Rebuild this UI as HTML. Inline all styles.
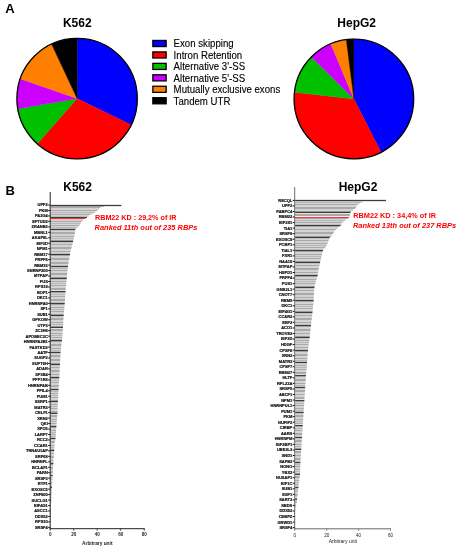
<!DOCTYPE html>
<html lang="en"><head><meta charset="utf-8"><title>Figure</title>
<style>html,body{margin:0;padding:0;background:#fff}svg{display:block}</style></head>
<body>
<svg width="460" height="550" viewBox="0 0 460 550" font-family="'Liberation Sans', Arial, sans-serif">
<rect width="460" height="550" fill="#fff"/>
<text x="5.2" y="13.2" font-size="13" font-weight="bold" fill="#000">A</text>
<text x="5.5" y="195" font-size="13" font-weight="bold" fill="#000">B</text>
<text x="77.3" y="26.6" font-size="12" font-weight="bold" text-anchor="middle" fill="#000">K562</text>
<text x="356.7" y="26.7" font-size="12" font-weight="bold" text-anchor="middle" fill="#000">HepG2</text>
<text x="77.6" y="191.2" font-size="12" font-weight="bold" text-anchor="middle" fill="#000">K562</text>
<text x="358" y="191" font-size="12" font-weight="bold" text-anchor="middle" fill="#000">HepG2</text>
<path d="M77.10,98.60L77.10,38.40A60.2,60.2 0 0 1 131.21,124.99Z" fill="#0000ff" stroke="#0000ff" stroke-width="0.4"/>
<path d="M77.10,98.60L131.21,124.99A60.2,60.2 0 0 1 37.21,143.69Z" fill="#ff0000" stroke="#ff0000" stroke-width="0.4"/>
<path d="M77.10,98.60L37.21,143.69A60.2,60.2 0 0 1 17.74,108.64Z" fill="#00c000" stroke="#00c000" stroke-width="0.4"/>
<path d="M77.10,98.60L17.74,108.64A60.2,60.2 0 0 1 20.28,78.70Z" fill="#cc00ff" stroke="#cc00ff" stroke-width="0.4"/>
<path d="M77.10,98.60L20.28,78.70A60.2,60.2 0 0 1 51.56,44.08Z" fill="#ff8000" stroke="#ff8000" stroke-width="0.4"/>
<path d="M77.10,98.60L51.56,44.08A60.2,60.2 0 0 1 77.10,38.40Z" fill="#000000" stroke="#000000" stroke-width="0.4"/>
<circle cx="77.1" cy="98.6" r="60.2" fill="none" stroke="#000" stroke-width="1.3"/>
<path d="M353.90,99.00L353.90,39.20A59.8,59.8 0 0 1 381.05,152.28Z" fill="#0000ff" stroke="#0000ff" stroke-width="0.4"/>
<path d="M353.90,99.00L381.05,152.28A59.8,59.8 0 0 1 294.50,92.13Z" fill="#ff0000" stroke="#ff0000" stroke-width="0.4"/>
<path d="M353.90,99.00L294.50,92.13A59.8,59.8 0 0 1 311.39,56.94Z" fill="#00c000" stroke="#00c000" stroke-width="0.4"/>
<path d="M353.90,99.00L311.39,56.94A59.8,59.8 0 0 1 330.82,43.83Z" fill="#cc00ff" stroke="#cc00ff" stroke-width="0.4"/>
<path d="M353.90,99.00L330.82,43.83A59.8,59.8 0 0 1 346.30,39.68Z" fill="#ff8000" stroke="#ff8000" stroke-width="0.4"/>
<path d="M353.90,99.00L346.30,39.68A59.8,59.8 0 0 1 353.90,39.20Z" fill="#000000" stroke="#000000" stroke-width="0.4"/>
<circle cx="353.9" cy="99" r="59.8" fill="none" stroke="#000" stroke-width="1.3"/>
<rect x="152.85" y="40.45" width="13.3" height="6.1" fill="#0000ff" stroke="#000" stroke-width="1.3"/>
<text transform="translate(173.6,47.25) scale(1,1.07)" font-size="9.65" fill="#000" stroke="#000" stroke-width="0.12">Exon skipping</text>
<rect x="152.85" y="51.90" width="13.3" height="6.1" fill="#ff0000" stroke="#000" stroke-width="1.3"/>
<text transform="translate(173.6,58.70) scale(1,1.07)" font-size="9.65" fill="#000" stroke="#000" stroke-width="0.12">Intron Retention</text>
<rect x="152.85" y="63.35" width="13.3" height="6.1" fill="#00c000" stroke="#000" stroke-width="1.3"/>
<text transform="translate(173.6,70.15) scale(1,1.07)" font-size="9.65" fill="#000" stroke="#000" stroke-width="0.12">Alternative 3'-SS</text>
<rect x="152.85" y="74.80" width="13.3" height="6.1" fill="#cc00ff" stroke="#000" stroke-width="1.3"/>
<text transform="translate(173.6,81.60) scale(1,1.07)" font-size="9.65" fill="#000" stroke="#000" stroke-width="0.12">Alternative 5'-SS</text>
<rect x="152.85" y="86.25" width="13.3" height="6.1" fill="#ff8000" stroke="#000" stroke-width="1.3"/>
<text transform="translate(173.6,93.05) scale(1,1.07)" font-size="9.65" fill="#000" stroke="#000" stroke-width="0.12">Mutually exclusive exons</text>
<rect x="152.85" y="97.70" width="13.3" height="6.1" fill="#000000" stroke="#000" stroke-width="1.3"/>
<text transform="translate(173.6,104.50) scale(1,1.07)" font-size="9.65" fill="#000" stroke="#000" stroke-width="0.12">Tandem UTR</text>
<rect x="50.60" y="204.85" width="70.80" height="1.30" fill="#3c3c3c"/>
<rect x="50.60" y="206.15" width="53.13" height="0.70" fill="#868686"/>
<rect x="50.60" y="207.15" width="49.92" height="0.70" fill="#868686"/>
<rect x="50.60" y="208.65" width="48.28" height="0.70" fill="#868686"/>
<rect x="50.60" y="210.15" width="46.64" height="0.70" fill="#868686"/>
<rect x="50.60" y="211.65" width="44.92" height="0.70" fill="#868686"/>
<rect x="50.60" y="212.65" width="43.01" height="0.70" fill="#868686"/>
<rect x="50.60" y="214.15" width="40.28" height="0.70" fill="#868686"/>
<rect x="50.60" y="215.65" width="38.16" height="0.70" fill="#868686"/>
<rect x="50.60" y="216.85" width="36.34" height="1.30" fill="#3c3c3c"/>
<rect x="50.60" y="217.95" width="34.41" height="1.10" fill="#ff3030"/>
<rect x="50.60" y="219.65" width="32.38" height="0.70" fill="#868686"/>
<rect x="50.60" y="221.15" width="31.29" height="0.70" fill="#868686"/>
<rect x="50.60" y="222.65" width="30.19" height="0.70" fill="#868686"/>
<rect x="50.60" y="223.65" width="29.40" height="0.70" fill="#868686"/>
<rect x="50.60" y="225.15" width="28.67" height="0.70" fill="#868686"/>
<rect x="50.60" y="226.65" width="27.37" height="0.70" fill="#868686"/>
<rect x="50.60" y="227.65" width="25.73" height="0.70" fill="#868686"/>
<rect x="50.60" y="228.85" width="24.72" height="1.30" fill="#3c3c3c"/>
<rect x="50.60" y="230.65" width="24.54" height="0.70" fill="#868686"/>
<rect x="50.60" y="232.15" width="24.36" height="0.70" fill="#868686"/>
<rect x="50.60" y="233.15" width="24.18" height="0.70" fill="#868686"/>
<rect x="50.60" y="234.65" width="23.99" height="0.70" fill="#868686"/>
<rect x="50.60" y="236.15" width="23.68" height="0.70" fill="#868686"/>
<rect x="50.60" y="237.65" width="23.36" height="0.70" fill="#868686"/>
<rect x="50.60" y="238.65" width="23.05" height="0.70" fill="#868686"/>
<rect x="50.60" y="240.15" width="22.74" height="0.70" fill="#868686"/>
<rect x="50.60" y="240.85" width="22.43" height="1.30" fill="#3c3c3c"/>
<rect x="50.60" y="242.65" width="22.07" height="0.70" fill="#868686"/>
<rect x="50.60" y="244.15" width="21.70" height="0.70" fill="#868686"/>
<rect x="50.60" y="245.65" width="21.34" height="0.70" fill="#868686"/>
<rect x="50.60" y="247.15" width="20.97" height="0.70" fill="#868686"/>
<rect x="50.60" y="248.15" width="20.63" height="0.70" fill="#868686"/>
<rect x="50.60" y="249.65" width="20.32" height="0.70" fill="#868686"/>
<rect x="50.60" y="251.15" width="20.00" height="0.70" fill="#868686"/>
<rect x="50.60" y="252.65" width="19.68" height="0.70" fill="#868686"/>
<rect x="50.60" y="253.85" width="19.37" height="1.30" fill="#3c3c3c"/>
<rect x="50.60" y="255.15" width="19.14" height="0.70" fill="#868686"/>
<rect x="50.60" y="256.65" width="18.92" height="0.70" fill="#868686"/>
<rect x="50.60" y="258.15" width="18.69" height="0.70" fill="#868686"/>
<rect x="50.60" y="259.15" width="18.46" height="0.70" fill="#868686"/>
<rect x="50.60" y="260.65" width="18.23" height="0.70" fill="#868686"/>
<rect x="50.60" y="262.15" width="18.00" height="0.70" fill="#868686"/>
<rect x="50.60" y="263.15" width="17.78" height="0.70" fill="#868686"/>
<rect x="50.60" y="264.65" width="17.55" height="0.70" fill="#868686"/>
<rect x="50.60" y="265.85" width="17.35" height="1.30" fill="#3c3c3c"/>
<rect x="50.60" y="267.65" width="17.22" height="0.70" fill="#868686"/>
<rect x="50.60" y="268.65" width="17.08" height="0.70" fill="#868686"/>
<rect x="50.60" y="270.15" width="16.94" height="0.70" fill="#868686"/>
<rect x="50.60" y="271.65" width="16.81" height="0.70" fill="#868686"/>
<rect x="50.60" y="273.15" width="16.67" height="0.70" fill="#868686"/>
<rect x="50.60" y="274.15" width="16.53" height="0.70" fill="#868686"/>
<rect x="50.60" y="275.65" width="16.40" height="0.70" fill="#868686"/>
<rect x="50.60" y="277.15" width="16.26" height="0.70" fill="#868686"/>
<rect x="50.60" y="277.85" width="16.12" height="1.30" fill="#3c3c3c"/>
<rect x="50.60" y="279.65" width="15.99" height="0.70" fill="#868686"/>
<rect x="50.60" y="281.15" width="15.85" height="0.70" fill="#868686"/>
<rect x="50.60" y="282.65" width="15.71" height="0.70" fill="#868686"/>
<rect x="50.60" y="283.65" width="15.58" height="0.70" fill="#868686"/>
<rect x="50.60" y="285.15" width="15.44" height="0.70" fill="#868686"/>
<rect x="50.60" y="286.65" width="15.30" height="0.70" fill="#868686"/>
<rect x="50.60" y="288.15" width="15.17" height="0.70" fill="#868686"/>
<rect x="50.60" y="289.15" width="15.03" height="0.70" fill="#868686"/>
<rect x="50.60" y="290.85" width="14.94" height="1.30" fill="#3c3c3c"/>
<rect x="50.60" y="292.15" width="14.85" height="0.70" fill="#868686"/>
<rect x="50.60" y="293.65" width="14.77" height="0.70" fill="#868686"/>
<rect x="50.60" y="294.65" width="14.69" height="0.70" fill="#868686"/>
<rect x="50.60" y="296.15" width="14.61" height="0.70" fill="#868686"/>
<rect x="50.60" y="297.65" width="14.53" height="0.70" fill="#868686"/>
<rect x="50.60" y="299.15" width="14.44" height="0.70" fill="#868686"/>
<rect x="50.60" y="300.15" width="14.35" height="0.70" fill="#868686"/>
<rect x="50.60" y="301.65" width="14.25" height="0.70" fill="#868686"/>
<rect x="50.60" y="302.85" width="14.15" height="1.30" fill="#3c3c3c"/>
<rect x="50.60" y="304.15" width="14.05" height="0.70" fill="#868686"/>
<rect x="50.60" y="305.65" width="13.94" height="0.70" fill="#868686"/>
<rect x="50.60" y="307.15" width="13.84" height="0.70" fill="#868686"/>
<rect x="50.60" y="308.65" width="13.72" height="0.70" fill="#868686"/>
<rect x="50.60" y="309.65" width="13.58" height="0.70" fill="#868686"/>
<rect x="50.60" y="311.15" width="13.45" height="0.70" fill="#868686"/>
<rect x="50.60" y="312.65" width="13.31" height="0.70" fill="#868686"/>
<rect x="50.60" y="314.15" width="13.17" height="0.70" fill="#868686"/>
<rect x="50.60" y="314.85" width="13.04" height="1.30" fill="#3c3c3c"/>
<rect x="50.60" y="316.65" width="12.95" height="0.70" fill="#868686"/>
<rect x="50.60" y="318.15" width="12.88" height="0.70" fill="#868686"/>
<rect x="50.60" y="319.15" width="12.81" height="0.70" fill="#868686"/>
<rect x="50.60" y="320.65" width="12.74" height="0.70" fill="#868686"/>
<rect x="50.60" y="322.15" width="12.68" height="0.70" fill="#868686"/>
<rect x="50.60" y="323.65" width="12.61" height="0.70" fill="#868686"/>
<rect x="50.60" y="324.65" width="12.54" height="0.70" fill="#868686"/>
<rect x="50.60" y="326.15" width="12.47" height="0.70" fill="#868686"/>
<rect x="50.60" y="326.85" width="12.40" height="1.30" fill="#3c3c3c"/>
<rect x="50.60" y="329.15" width="12.29" height="0.70" fill="#868686"/>
<rect x="50.60" y="330.15" width="12.18" height="0.70" fill="#868686"/>
<rect x="50.60" y="331.65" width="12.06" height="0.70" fill="#868686"/>
<rect x="50.60" y="333.15" width="11.95" height="0.70" fill="#868686"/>
<rect x="50.60" y="334.65" width="11.84" height="0.70" fill="#868686"/>
<rect x="50.60" y="335.65" width="11.72" height="0.70" fill="#868686"/>
<rect x="50.60" y="337.15" width="11.61" height="0.70" fill="#868686"/>
<rect x="50.60" y="338.65" width="11.49" height="0.70" fill="#868686"/>
<rect x="50.60" y="339.85" width="11.37" height="1.30" fill="#3c3c3c"/>
<rect x="50.60" y="341.15" width="11.21" height="0.70" fill="#868686"/>
<rect x="50.60" y="342.65" width="11.05" height="0.70" fill="#868686"/>
<rect x="50.60" y="344.15" width="10.89" height="0.70" fill="#868686"/>
<rect x="50.60" y="345.15" width="10.74" height="0.70" fill="#868686"/>
<rect x="50.60" y="346.65" width="10.58" height="0.70" fill="#868686"/>
<rect x="50.60" y="348.15" width="10.42" height="0.70" fill="#868686"/>
<rect x="50.60" y="349.65" width="10.26" height="0.70" fill="#868686"/>
<rect x="50.60" y="350.65" width="10.10" height="0.70" fill="#868686"/>
<rect x="50.60" y="351.85" width="9.97" height="1.30" fill="#3c3c3c"/>
<rect x="50.60" y="353.65" width="9.91" height="0.70" fill="#868686"/>
<rect x="50.60" y="355.15" width="9.84" height="0.70" fill="#868686"/>
<rect x="50.60" y="356.15" width="9.77" height="0.70" fill="#868686"/>
<rect x="50.60" y="357.65" width="9.70" height="0.70" fill="#868686"/>
<rect x="50.60" y="359.15" width="9.63" height="0.70" fill="#868686"/>
<rect x="50.60" y="360.15" width="9.56" height="0.70" fill="#868686"/>
<rect x="50.60" y="361.65" width="9.50" height="0.70" fill="#868686"/>
<rect x="50.60" y="363.15" width="9.43" height="0.70" fill="#868686"/>
<rect x="50.60" y="363.85" width="9.36" height="1.30" fill="#3c3c3c"/>
<rect x="50.60" y="365.65" width="9.29" height="0.70" fill="#868686"/>
<rect x="50.60" y="367.15" width="9.22" height="0.70" fill="#868686"/>
<rect x="50.60" y="368.65" width="9.15" height="0.70" fill="#868686"/>
<rect x="50.60" y="370.15" width="9.09" height="0.70" fill="#868686"/>
<rect x="50.60" y="371.15" width="9.02" height="0.70" fill="#868686"/>
<rect x="50.60" y="372.65" width="8.95" height="0.70" fill="#868686"/>
<rect x="50.60" y="374.15" width="8.88" height="0.70" fill="#868686"/>
<rect x="50.60" y="375.65" width="8.81" height="0.70" fill="#868686"/>
<rect x="50.60" y="376.85" width="8.73" height="1.30" fill="#3c3c3c"/>
<rect x="50.60" y="378.15" width="8.63" height="0.70" fill="#868686"/>
<rect x="50.60" y="379.65" width="8.54" height="0.70" fill="#868686"/>
<rect x="50.60" y="380.65" width="8.45" height="0.70" fill="#868686"/>
<rect x="50.60" y="382.15" width="8.36" height="0.70" fill="#868686"/>
<rect x="50.60" y="383.65" width="8.27" height="0.70" fill="#868686"/>
<rect x="50.60" y="385.15" width="8.18" height="0.70" fill="#868686"/>
<rect x="50.60" y="386.15" width="8.09" height="0.70" fill="#868686"/>
<rect x="50.60" y="387.65" width="8.00" height="0.70" fill="#868686"/>
<rect x="50.60" y="388.85" width="7.93" height="1.30" fill="#3c3c3c"/>
<rect x="50.60" y="390.65" width="7.86" height="0.70" fill="#868686"/>
<rect x="50.60" y="391.65" width="7.79" height="0.70" fill="#868686"/>
<rect x="50.60" y="393.15" width="7.72" height="0.70" fill="#868686"/>
<rect x="50.60" y="394.65" width="7.66" height="0.70" fill="#868686"/>
<rect x="50.60" y="395.65" width="7.59" height="0.70" fill="#868686"/>
<rect x="50.60" y="397.15" width="7.52" height="0.70" fill="#868686"/>
<rect x="50.60" y="398.65" width="7.45" height="0.70" fill="#868686"/>
<rect x="50.60" y="400.15" width="7.39" height="0.70" fill="#868686"/>
<rect x="50.60" y="400.85" width="7.33" height="1.30" fill="#3c3c3c"/>
<rect x="50.60" y="402.65" width="7.27" height="0.70" fill="#868686"/>
<rect x="50.60" y="404.15" width="7.21" height="0.70" fill="#868686"/>
<rect x="50.60" y="405.65" width="7.15" height="0.70" fill="#868686"/>
<rect x="50.60" y="406.65" width="7.09" height="0.70" fill="#868686"/>
<rect x="50.60" y="408.15" width="7.03" height="0.70" fill="#868686"/>
<rect x="50.60" y="409.65" width="6.98" height="0.70" fill="#868686"/>
<rect x="50.60" y="411.15" width="6.92" height="0.70" fill="#868686"/>
<rect x="50.60" y="412.15" width="6.86" height="0.70" fill="#868686"/>
<rect x="50.60" y="412.85" width="6.80" height="1.30" fill="#3c3c3c"/>
<rect x="50.60" y="415.15" width="6.69" height="0.70" fill="#868686"/>
<rect x="50.60" y="416.15" width="6.57" height="0.70" fill="#868686"/>
<rect x="50.60" y="417.65" width="6.46" height="0.70" fill="#868686"/>
<rect x="50.60" y="419.15" width="6.34" height="0.70" fill="#868686"/>
<rect x="50.60" y="420.65" width="6.23" height="0.70" fill="#868686"/>
<rect x="50.60" y="421.65" width="6.12" height="0.70" fill="#868686"/>
<rect x="50.60" y="423.15" width="6.00" height="0.70" fill="#868686"/>
<rect x="50.60" y="424.65" width="5.89" height="0.70" fill="#868686"/>
<rect x="50.60" y="425.85" width="5.78" height="1.30" fill="#3c3c3c"/>
<rect x="50.60" y="427.15" width="5.69" height="0.70" fill="#868686"/>
<rect x="50.60" y="428.65" width="5.60" height="0.70" fill="#868686"/>
<rect x="50.60" y="430.15" width="5.51" height="0.70" fill="#868686"/>
<rect x="50.60" y="431.65" width="5.42" height="0.70" fill="#868686"/>
<rect x="50.60" y="432.65" width="5.33" height="0.70" fill="#868686"/>
<rect x="50.60" y="434.15" width="5.23" height="0.70" fill="#868686"/>
<rect x="50.60" y="435.65" width="5.14" height="0.70" fill="#868686"/>
<rect x="50.60" y="436.65" width="5.05" height="0.70" fill="#868686"/>
<rect x="50.60" y="437.85" width="4.88" height="1.30" fill="#3c3c3c"/>
<rect x="50.60" y="439.65" width="4.61" height="0.70" fill="#868686"/>
<rect x="50.60" y="441.15" width="4.34" height="0.70" fill="#868686"/>
<rect x="50.60" y="442.15" width="4.06" height="0.70" fill="#868686"/>
<rect x="50.60" y="443.65" width="3.95" height="0.70" fill="#868686"/>
<rect x="50.60" y="445.15" width="3.88" height="0.70" fill="#868686"/>
<rect x="50.60" y="446.65" width="3.81" height="0.70" fill="#868686"/>
<rect x="50.60" y="447.65" width="3.74" height="0.70" fill="#868686"/>
<rect x="50.60" y="449.15" width="3.67" height="0.70" fill="#868686"/>
<rect x="50.60" y="449.85" width="3.61" height="1.30" fill="#3c3c3c"/>
<rect x="50.60" y="451.65" width="3.51" height="0.70" fill="#868686"/>
<rect x="50.60" y="453.15" width="3.41" height="0.70" fill="#868686"/>
<rect x="50.60" y="454.65" width="3.31" height="0.70" fill="#868686"/>
<rect x="50.60" y="456.15" width="3.21" height="0.70" fill="#868686"/>
<rect x="50.60" y="457.15" width="3.11" height="0.70" fill="#868686"/>
<rect x="50.60" y="458.65" width="3.01" height="0.70" fill="#868686"/>
<rect x="50.60" y="460.15" width="2.91" height="0.70" fill="#868686"/>
<rect x="50.60" y="461.65" width="2.81" height="0.70" fill="#868686"/>
<rect x="50.60" y="462.85" width="2.73" height="1.30" fill="#3c3c3c"/>
<rect x="50.60" y="464.15" width="2.65" height="0.70" fill="#868686"/>
<rect x="50.60" y="465.65" width="2.58" height="0.70" fill="#868686"/>
<rect x="50.60" y="467.15" width="2.50" height="0.70" fill="#868686"/>
<rect x="50.60" y="468.15" width="2.42" height="0.70" fill="#868686"/>
<rect x="50.60" y="469.65" width="2.34" height="0.70" fill="#868686"/>
<rect x="50.60" y="471.15" width="2.26" height="0.70" fill="#868686"/>
<rect x="50.60" y="472.15" width="2.19" height="0.70" fill="#868686"/>
<rect x="50.60" y="473.65" width="2.11" height="0.70" fill="#868686"/>
<rect x="50.60" y="474.85" width="2.03" height="1.30" fill="#3c3c3c"/>
<rect x="50.60" y="476.65" width="1.96" height="0.70" fill="#868686"/>
<rect x="50.60" y="477.65" width="1.89" height="0.70" fill="#868686"/>
<rect x="50.60" y="479.15" width="1.82" height="0.70" fill="#868686"/>
<rect x="50.60" y="480.65" width="1.75" height="0.70" fill="#868686"/>
<rect x="50.60" y="482.15" width="1.69" height="0.70" fill="#868686"/>
<rect x="50.60" y="483.15" width="1.62" height="0.70" fill="#868686"/>
<rect x="50.60" y="484.65" width="1.55" height="0.70" fill="#868686"/>
<rect x="50.60" y="486.15" width="1.48" height="0.70" fill="#868686"/>
<rect x="50.60" y="486.85" width="1.41" height="1.30" fill="#3c3c3c"/>
<rect x="50.60" y="488.65" width="1.33" height="0.70" fill="#868686"/>
<rect x="50.60" y="490.15" width="1.25" height="0.70" fill="#868686"/>
<rect x="50.60" y="491.65" width="1.17" height="0.70" fill="#868686"/>
<rect x="50.60" y="492.65" width="1.10" height="0.70" fill="#868686"/>
<rect x="50.60" y="494.15" width="1.02" height="0.70" fill="#868686"/>
<rect x="50.60" y="495.65" width="0.94" height="0.70" fill="#868686"/>
<rect x="50.60" y="497.15" width="0.86" height="0.70" fill="#868686"/>
<rect x="50.60" y="498.15" width="0.78" height="0.70" fill="#868686"/>
<rect x="50.60" y="499.85" width="0.70" height="1.30" fill="#3c3c3c"/>
<rect x="50.60" y="501.15" width="0.61" height="0.70" fill="#868686"/>
<rect x="50.60" y="502.65" width="0.51" height="0.70" fill="#868686"/>
<rect x="50.60" y="503.65" width="0.42" height="0.70" fill="#868686"/>
<rect x="50.60" y="505.15" width="0.33" height="0.70" fill="#868686"/>
<rect x="50.60" y="506.65" width="0.29" height="0.70" fill="#868686"/>
<rect x="50.60" y="508.15" width="0.27" height="0.70" fill="#868686"/>
<rect x="50.60" y="509.15" width="0.25" height="0.70" fill="#868686"/>
<rect x="50.60" y="510.65" width="0.24" height="0.70" fill="#868686"/>
<rect x="50.60" y="511.85" width="0.22" height="1.30" fill="#3c3c3c"/>
<rect x="50.60" y="513.15" width="0.20" height="0.70" fill="#868686"/>
<rect x="50.60" y="514.65" width="0.19" height="0.70" fill="#868686"/>
<rect x="50.60" y="516.15" width="0.17" height="0.70" fill="#868686"/>
<rect x="50.60" y="517.65" width="0.15" height="0.70" fill="#868686"/>
<rect x="50.60" y="518.65" width="0.14" height="0.70" fill="#868686"/>
<rect x="50.60" y="520.15" width="0.12" height="0.70" fill="#868686"/>
<rect x="50.60" y="521.65" width="0.10" height="0.70" fill="#868686"/>
<rect x="50.60" y="523.15" width="0.08" height="0.70" fill="#868686"/>
<rect x="50.60" y="523.85" width="0.07" height="1.30" fill="#3c3c3c"/>
<line x1="50.2" y1="192" x2="50.2" y2="529.2" stroke="#222" stroke-width="1"/>
<line x1="49.7" y1="528.7" x2="144.8" y2="528.7" stroke="#222" stroke-width="1"/>
<line x1="50.2" y1="528.7" x2="50.2" y2="530.7" stroke="#222" stroke-width="0.8"/>
<text x="50.2" y="535.8" font-size="4.6" font-weight="bold" text-anchor="middle" fill="#222">0</text>
<line x1="73.7" y1="528.7" x2="73.7" y2="530.7" stroke="#222" stroke-width="0.8"/>
<text x="73.7" y="535.8" font-size="4.6" font-weight="bold" text-anchor="middle" fill="#222">20</text>
<line x1="97.2" y1="528.7" x2="97.2" y2="530.7" stroke="#222" stroke-width="0.8"/>
<text x="97.2" y="535.8" font-size="4.6" font-weight="bold" text-anchor="middle" fill="#222">40</text>
<line x1="120.7" y1="528.7" x2="120.7" y2="530.7" stroke="#222" stroke-width="0.8"/>
<text x="120.7" y="535.8" font-size="4.6" font-weight="bold" text-anchor="middle" fill="#222">60</text>
<line x1="144.2" y1="528.7" x2="144.2" y2="530.7" stroke="#222" stroke-width="0.8"/>
<text x="144.2" y="535.8" font-size="4.6" font-weight="bold" text-anchor="middle" fill="#222">80</text>
<text x="97.3" y="544.6" font-size="4.8" font-weight="bold" text-anchor="middle" fill="#222">Arbitrary unit</text>
<line x1="48.2" y1="205.00" x2="50.2" y2="205.00" stroke="#111" stroke-width="1"/>
<text x="47.80" y="206.44" font-size="4" font-weight="bold" text-anchor="end" fill="#111" stroke="#111" stroke-width="0.2">UPF2</text>
<line x1="48.2" y1="210.46" x2="50.2" y2="210.46" stroke="#111" stroke-width="1"/>
<text x="47.80" y="211.90" font-size="4" font-weight="bold" text-anchor="end" fill="#111" stroke="#111" stroke-width="0.2">PKM</text>
<line x1="48.2" y1="215.93" x2="50.2" y2="215.93" stroke="#111" stroke-width="1"/>
<text x="47.80" y="217.37" font-size="4" font-weight="bold" text-anchor="end" fill="#111" stroke="#111" stroke-width="0.2">PA2G4</text>
<line x1="48.2" y1="221.39" x2="50.2" y2="221.39" stroke="#111" stroke-width="1"/>
<text x="47.80" y="222.83" font-size="4" font-weight="bold" text-anchor="end" fill="#111" stroke="#111" stroke-width="0.2">EFTUD2</text>
<line x1="48.2" y1="226.86" x2="50.2" y2="226.86" stroke="#111" stroke-width="1"/>
<text x="47.80" y="228.30" font-size="4" font-weight="bold" text-anchor="end" fill="#111" stroke="#111" stroke-width="0.2">ZRANB2</text>
<line x1="48.2" y1="232.32" x2="50.2" y2="232.32" stroke="#111" stroke-width="1"/>
<text x="47.80" y="233.76" font-size="4" font-weight="bold" text-anchor="end" fill="#111" stroke="#111" stroke-width="0.2">MBNL1</text>
<line x1="48.2" y1="237.78" x2="50.2" y2="237.78" stroke="#111" stroke-width="1"/>
<text x="47.80" y="239.22" font-size="4" font-weight="bold" text-anchor="end" fill="#111" stroke="#111" stroke-width="0.2">AKAP8L</text>
<line x1="48.2" y1="243.25" x2="50.2" y2="243.25" stroke="#111" stroke-width="1"/>
<text x="47.80" y="244.69" font-size="4" font-weight="bold" text-anchor="end" fill="#111" stroke="#111" stroke-width="0.2">EIF3D</text>
<line x1="48.2" y1="248.71" x2="50.2" y2="248.71" stroke="#111" stroke-width="1"/>
<text x="47.80" y="250.15" font-size="4" font-weight="bold" text-anchor="end" fill="#111" stroke="#111" stroke-width="0.2">NPM1</text>
<line x1="48.2" y1="254.18" x2="50.2" y2="254.18" stroke="#111" stroke-width="1"/>
<text x="47.80" y="255.62" font-size="4" font-weight="bold" text-anchor="end" fill="#111" stroke="#111" stroke-width="0.2">RBM17</text>
<line x1="48.2" y1="259.64" x2="50.2" y2="259.64" stroke="#111" stroke-width="1"/>
<text x="47.80" y="261.08" font-size="4" font-weight="bold" text-anchor="end" fill="#111" stroke="#111" stroke-width="0.2">PRPF6</text>
<line x1="48.2" y1="265.10" x2="50.2" y2="265.10" stroke="#111" stroke-width="1"/>
<text x="47.80" y="266.54" font-size="4" font-weight="bold" text-anchor="end" fill="#111" stroke="#111" stroke-width="0.2">RBM15</text>
<line x1="48.2" y1="270.57" x2="50.2" y2="270.57" stroke="#111" stroke-width="1"/>
<text x="47.80" y="272.01" font-size="4" font-weight="bold" text-anchor="end" fill="#111" stroke="#111" stroke-width="0.2">SNRNP200</text>
<line x1="48.2" y1="276.03" x2="50.2" y2="276.03" stroke="#111" stroke-width="1"/>
<text x="47.80" y="277.47" font-size="4" font-weight="bold" text-anchor="end" fill="#111" stroke="#111" stroke-width="0.2">MTPAP</text>
<line x1="48.2" y1="281.50" x2="50.2" y2="281.50" stroke="#111" stroke-width="1"/>
<text x="47.80" y="282.94" font-size="4" font-weight="bold" text-anchor="end" fill="#111" stroke="#111" stroke-width="0.2">FUS</text>
<line x1="48.2" y1="286.96" x2="50.2" y2="286.96" stroke="#111" stroke-width="1"/>
<text x="47.80" y="288.40" font-size="4" font-weight="bold" text-anchor="end" fill="#111" stroke="#111" stroke-width="0.2">RPS19</text>
<line x1="48.2" y1="292.42" x2="50.2" y2="292.42" stroke="#111" stroke-width="1"/>
<text x="47.80" y="293.86" font-size="4" font-weight="bold" text-anchor="end" fill="#111" stroke="#111" stroke-width="0.2">BOP1</text>
<line x1="48.2" y1="297.89" x2="50.2" y2="297.89" stroke="#111" stroke-width="1"/>
<text x="47.80" y="299.33" font-size="4" font-weight="bold" text-anchor="end" fill="#111" stroke="#111" stroke-width="0.2">DKC1</text>
<line x1="48.2" y1="303.35" x2="50.2" y2="303.35" stroke="#111" stroke-width="1"/>
<text x="47.80" y="304.79" font-size="4" font-weight="bold" text-anchor="end" fill="#111" stroke="#111" stroke-width="0.2">HNRNPA0</text>
<line x1="48.2" y1="308.82" x2="50.2" y2="308.82" stroke="#111" stroke-width="1"/>
<text x="47.80" y="310.26" font-size="4" font-weight="bold" text-anchor="end" fill="#111" stroke="#111" stroke-width="0.2">SF1</text>
<line x1="48.2" y1="314.28" x2="50.2" y2="314.28" stroke="#111" stroke-width="1"/>
<text x="47.80" y="315.72" font-size="4" font-weight="bold" text-anchor="end" fill="#111" stroke="#111" stroke-width="0.2">SUB1</text>
<line x1="48.2" y1="319.74" x2="50.2" y2="319.74" stroke="#111" stroke-width="1"/>
<text x="47.80" y="321.18" font-size="4" font-weight="bold" text-anchor="end" fill="#111" stroke="#111" stroke-width="0.2">GPKOW</text>
<line x1="48.2" y1="325.21" x2="50.2" y2="325.21" stroke="#111" stroke-width="1"/>
<text x="47.80" y="326.65" font-size="4" font-weight="bold" text-anchor="end" fill="#111" stroke="#111" stroke-width="0.2">UTP3</text>
<line x1="48.2" y1="330.67" x2="50.2" y2="330.67" stroke="#111" stroke-width="1"/>
<text x="47.80" y="332.11" font-size="4" font-weight="bold" text-anchor="end" fill="#111" stroke="#111" stroke-width="0.2">ZC3H8</text>
<line x1="48.2" y1="336.14" x2="50.2" y2="336.14" stroke="#111" stroke-width="1"/>
<text x="47.80" y="337.58" font-size="4" font-weight="bold" text-anchor="end" fill="#111" stroke="#111" stroke-width="0.2">APOBEC3C</text>
<line x1="48.2" y1="341.60" x2="50.2" y2="341.60" stroke="#111" stroke-width="1"/>
<text x="47.80" y="343.04" font-size="4" font-weight="bold" text-anchor="end" fill="#111" stroke="#111" stroke-width="0.2">HNRNPA2B1</text>
<line x1="48.2" y1="347.06" x2="50.2" y2="347.06" stroke="#111" stroke-width="1"/>
<text x="47.80" y="348.50" font-size="4" font-weight="bold" text-anchor="end" fill="#111" stroke="#111" stroke-width="0.2">FASTKD2</text>
<line x1="48.2" y1="352.53" x2="50.2" y2="352.53" stroke="#111" stroke-width="1"/>
<text x="47.80" y="353.97" font-size="4" font-weight="bold" text-anchor="end" fill="#111" stroke="#111" stroke-width="0.2">AATF</text>
<line x1="48.2" y1="357.99" x2="50.2" y2="357.99" stroke="#111" stroke-width="1"/>
<text x="47.80" y="359.43" font-size="4" font-weight="bold" text-anchor="end" fill="#111" stroke="#111" stroke-width="0.2">SUGP2</text>
<line x1="48.2" y1="363.46" x2="50.2" y2="363.46" stroke="#111" stroke-width="1"/>
<text x="47.80" y="364.90" font-size="4" font-weight="bold" text-anchor="end" fill="#111" stroke="#111" stroke-width="0.2">SUPT6H</text>
<line x1="48.2" y1="368.92" x2="50.2" y2="368.92" stroke="#111" stroke-width="1"/>
<text x="47.80" y="370.36" font-size="4" font-weight="bold" text-anchor="end" fill="#111" stroke="#111" stroke-width="0.2">ADAR</text>
<line x1="48.2" y1="374.38" x2="50.2" y2="374.38" stroke="#111" stroke-width="1"/>
<text x="47.80" y="375.82" font-size="4" font-weight="bold" text-anchor="end" fill="#111" stroke="#111" stroke-width="0.2">SF3B4</text>
<line x1="48.2" y1="379.85" x2="50.2" y2="379.85" stroke="#111" stroke-width="1"/>
<text x="47.80" y="381.29" font-size="4" font-weight="bold" text-anchor="end" fill="#111" stroke="#111" stroke-width="0.2">PPP1R8</text>
<line x1="48.2" y1="385.31" x2="50.2" y2="385.31" stroke="#111" stroke-width="1"/>
<text x="47.80" y="386.75" font-size="4" font-weight="bold" text-anchor="end" fill="#111" stroke="#111" stroke-width="0.2">HNRNPAB</text>
<line x1="48.2" y1="390.78" x2="50.2" y2="390.78" stroke="#111" stroke-width="1"/>
<text x="47.80" y="392.22" font-size="4" font-weight="bold" text-anchor="end" fill="#111" stroke="#111" stroke-width="0.2">PPIL4</text>
<line x1="48.2" y1="396.24" x2="50.2" y2="396.24" stroke="#111" stroke-width="1"/>
<text x="47.80" y="397.68" font-size="4" font-weight="bold" text-anchor="end" fill="#111" stroke="#111" stroke-width="0.2">PUM1</text>
<line x1="48.2" y1="401.70" x2="50.2" y2="401.70" stroke="#111" stroke-width="1"/>
<text x="47.80" y="403.14" font-size="4" font-weight="bold" text-anchor="end" fill="#111" stroke="#111" stroke-width="0.2">SSRP1</text>
<line x1="48.2" y1="407.17" x2="50.2" y2="407.17" stroke="#111" stroke-width="1"/>
<text x="47.80" y="408.61" font-size="4" font-weight="bold" text-anchor="end" fill="#111" stroke="#111" stroke-width="0.2">MATR3</text>
<line x1="48.2" y1="412.63" x2="50.2" y2="412.63" stroke="#111" stroke-width="1"/>
<text x="47.80" y="414.07" font-size="4" font-weight="bold" text-anchor="end" fill="#111" stroke="#111" stroke-width="0.2">CELF1</text>
<line x1="48.2" y1="418.10" x2="50.2" y2="418.10" stroke="#111" stroke-width="1"/>
<text x="47.80" y="419.54" font-size="4" font-weight="bold" text-anchor="end" fill="#111" stroke="#111" stroke-width="0.2">XRN2</text>
<line x1="48.2" y1="423.56" x2="50.2" y2="423.56" stroke="#111" stroke-width="1"/>
<text x="47.80" y="425.00" font-size="4" font-weight="bold" text-anchor="end" fill="#111" stroke="#111" stroke-width="0.2">QKI</text>
<line x1="48.2" y1="429.02" x2="50.2" y2="429.02" stroke="#111" stroke-width="1"/>
<text x="47.80" y="430.46" font-size="4" font-weight="bold" text-anchor="end" fill="#111" stroke="#111" stroke-width="0.2">XPO5</text>
<line x1="48.2" y1="434.49" x2="50.2" y2="434.49" stroke="#111" stroke-width="1"/>
<text x="47.80" y="435.93" font-size="4" font-weight="bold" text-anchor="end" fill="#111" stroke="#111" stroke-width="0.2">LARP7</text>
<line x1="48.2" y1="439.95" x2="50.2" y2="439.95" stroke="#111" stroke-width="1"/>
<text x="47.80" y="441.39" font-size="4" font-weight="bold" text-anchor="end" fill="#111" stroke="#111" stroke-width="0.2">RCC2</text>
<line x1="48.2" y1="445.42" x2="50.2" y2="445.42" stroke="#111" stroke-width="1"/>
<text x="47.80" y="446.86" font-size="4" font-weight="bold" text-anchor="end" fill="#111" stroke="#111" stroke-width="0.2">CCAR1</text>
<line x1="48.2" y1="450.88" x2="50.2" y2="450.88" stroke="#111" stroke-width="1"/>
<text x="47.80" y="452.32" font-size="4" font-weight="bold" text-anchor="end" fill="#111" stroke="#111" stroke-width="0.2">TRNAU1AP</text>
<line x1="48.2" y1="456.34" x2="50.2" y2="456.34" stroke="#111" stroke-width="1"/>
<text x="47.80" y="457.78" font-size="4" font-weight="bold" text-anchor="end" fill="#111" stroke="#111" stroke-width="0.2">SRP68</text>
<line x1="48.2" y1="461.81" x2="50.2" y2="461.81" stroke="#111" stroke-width="1"/>
<text x="47.80" y="463.25" font-size="4" font-weight="bold" text-anchor="end" fill="#111" stroke="#111" stroke-width="0.2">HNRNPL</text>
<line x1="48.2" y1="467.27" x2="50.2" y2="467.27" stroke="#111" stroke-width="1"/>
<text x="47.80" y="468.71" font-size="4" font-weight="bold" text-anchor="end" fill="#111" stroke="#111" stroke-width="0.2">BCLAF1</text>
<line x1="48.2" y1="472.74" x2="50.2" y2="472.74" stroke="#111" stroke-width="1"/>
<text x="47.80" y="474.18" font-size="4" font-weight="bold" text-anchor="end" fill="#111" stroke="#111" stroke-width="0.2">PARN</text>
<line x1="48.2" y1="478.20" x2="50.2" y2="478.20" stroke="#111" stroke-width="1"/>
<text x="47.80" y="479.64" font-size="4" font-weight="bold" text-anchor="end" fill="#111" stroke="#111" stroke-width="0.2">SRSF3</text>
<line x1="48.2" y1="483.66" x2="50.2" y2="483.66" stroke="#111" stroke-width="1"/>
<text x="47.80" y="485.10" font-size="4" font-weight="bold" text-anchor="end" fill="#111" stroke="#111" stroke-width="0.2">RTF1</text>
<line x1="48.2" y1="489.13" x2="50.2" y2="489.13" stroke="#111" stroke-width="1"/>
<text x="47.80" y="490.57" font-size="4" font-weight="bold" text-anchor="end" fill="#111" stroke="#111" stroke-width="0.2">EXOSC5</text>
<line x1="48.2" y1="494.59" x2="50.2" y2="494.59" stroke="#111" stroke-width="1"/>
<text x="47.80" y="496.03" font-size="4" font-weight="bold" text-anchor="end" fill="#111" stroke="#111" stroke-width="0.2">ZNF800</text>
<line x1="48.2" y1="500.06" x2="50.2" y2="500.06" stroke="#111" stroke-width="1"/>
<text x="47.80" y="501.50" font-size="4" font-weight="bold" text-anchor="end" fill="#111" stroke="#111" stroke-width="0.2">SUCLG1</text>
<line x1="48.2" y1="505.52" x2="50.2" y2="505.52" stroke="#111" stroke-width="1"/>
<text x="47.80" y="506.96" font-size="4" font-weight="bold" text-anchor="end" fill="#111" stroke="#111" stroke-width="0.2">EIF4G1</text>
<line x1="48.2" y1="510.98" x2="50.2" y2="510.98" stroke="#111" stroke-width="1"/>
<text x="47.80" y="512.42" font-size="4" font-weight="bold" text-anchor="end" fill="#111" stroke="#111" stroke-width="0.2">ASCC1</text>
<line x1="48.2" y1="516.45" x2="50.2" y2="516.45" stroke="#111" stroke-width="1"/>
<text x="47.80" y="517.89" font-size="4" font-weight="bold" text-anchor="end" fill="#111" stroke="#111" stroke-width="0.2">DDX52</text>
<line x1="48.2" y1="521.91" x2="50.2" y2="521.91" stroke="#111" stroke-width="1"/>
<text x="47.80" y="523.35" font-size="4" font-weight="bold" text-anchor="end" fill="#111" stroke="#111" stroke-width="0.2">RPS10</text>
<line x1="48.2" y1="527.38" x2="50.2" y2="527.38" stroke="#111" stroke-width="1"/>
<text x="47.80" y="528.82" font-size="4" font-weight="bold" text-anchor="end" fill="#111" stroke="#111" stroke-width="0.2">SRSF4</text>
<rect x="295.10" y="199.85" width="90.90" height="1.30" fill="#3c3c3c"/>
<rect x="295.10" y="201.65" width="67.13" height="0.70" fill="#868686"/>
<rect x="295.10" y="202.65" width="64.79" height="0.70" fill="#868686"/>
<rect x="295.10" y="204.15" width="62.77" height="0.70" fill="#868686"/>
<rect x="295.10" y="205.65" width="61.66" height="0.70" fill="#868686"/>
<rect x="295.10" y="207.15" width="60.80" height="0.70" fill="#868686"/>
<rect x="295.10" y="208.15" width="60.05" height="0.70" fill="#868686"/>
<rect x="295.10" y="209.65" width="58.20" height="0.70" fill="#868686"/>
<rect x="295.10" y="211.15" width="56.07" height="0.70" fill="#868686"/>
<rect x="295.10" y="211.85" width="55.37" height="1.30" fill="#3c3c3c"/>
<rect x="295.10" y="214.15" width="54.86" height="0.70" fill="#868686"/>
<rect x="295.10" y="215.15" width="54.65" height="0.70" fill="#868686"/>
<rect x="295.10" y="216.95" width="54.03" height="1.10" fill="#ff3030"/>
<rect x="295.10" y="218.15" width="52.52" height="0.70" fill="#868686"/>
<rect x="295.10" y="219.65" width="50.65" height="0.70" fill="#868686"/>
<rect x="295.10" y="220.65" width="48.52" height="0.70" fill="#868686"/>
<rect x="295.10" y="222.15" width="47.32" height="0.70" fill="#868686"/>
<rect x="295.10" y="223.65" width="46.51" height="0.70" fill="#868686"/>
<rect x="295.10" y="224.85" width="45.54" height="1.30" fill="#3c3c3c"/>
<rect x="295.10" y="226.15" width="44.16" height="0.70" fill="#868686"/>
<rect x="295.10" y="227.65" width="42.74" height="0.70" fill="#868686"/>
<rect x="295.10" y="229.15" width="41.08" height="0.70" fill="#868686"/>
<rect x="295.10" y="230.65" width="39.42" height="0.70" fill="#868686"/>
<rect x="295.10" y="232.15" width="38.70" height="0.70" fill="#868686"/>
<rect x="295.10" y="233.15" width="38.05" height="0.70" fill="#868686"/>
<rect x="295.10" y="234.65" width="37.00" height="0.70" fill="#868686"/>
<rect x="295.10" y="236.15" width="35.82" height="0.70" fill="#868686"/>
<rect x="295.10" y="236.85" width="34.64" height="1.30" fill="#3c3c3c"/>
<rect x="295.10" y="238.65" width="34.01" height="0.70" fill="#868686"/>
<rect x="295.10" y="240.15" width="33.46" height="0.70" fill="#868686"/>
<rect x="295.10" y="241.65" width="32.90" height="0.70" fill="#868686"/>
<rect x="295.10" y="243.15" width="32.35" height="0.70" fill="#868686"/>
<rect x="295.10" y="244.65" width="31.79" height="0.70" fill="#868686"/>
<rect x="295.10" y="245.65" width="31.17" height="0.70" fill="#868686"/>
<rect x="295.10" y="247.15" width="29.99" height="0.70" fill="#868686"/>
<rect x="295.10" y="248.65" width="28.81" height="0.70" fill="#868686"/>
<rect x="295.10" y="249.85" width="27.83" height="1.30" fill="#3c3c3c"/>
<rect x="295.10" y="251.15" width="27.50" height="0.70" fill="#868686"/>
<rect x="295.10" y="252.65" width="27.18" height="0.70" fill="#868686"/>
<rect x="295.10" y="254.15" width="26.86" height="0.70" fill="#868686"/>
<rect x="295.10" y="255.65" width="26.53" height="0.70" fill="#868686"/>
<rect x="295.10" y="256.65" width="26.22" height="0.70" fill="#868686"/>
<rect x="295.10" y="258.15" width="25.90" height="0.70" fill="#868686"/>
<rect x="295.10" y="259.65" width="25.58" height="0.70" fill="#868686"/>
<rect x="295.10" y="261.15" width="25.26" height="0.70" fill="#868686"/>
<rect x="295.10" y="261.85" width="24.95" height="1.30" fill="#3c3c3c"/>
<rect x="295.10" y="263.65" width="24.63" height="0.70" fill="#868686"/>
<rect x="295.10" y="265.15" width="24.31" height="0.70" fill="#868686"/>
<rect x="295.10" y="266.65" width="24.00" height="0.70" fill="#868686"/>
<rect x="295.10" y="268.15" width="23.68" height="0.70" fill="#868686"/>
<rect x="295.10" y="269.15" width="23.36" height="0.70" fill="#868686"/>
<rect x="295.10" y="270.65" width="23.15" height="0.70" fill="#868686"/>
<rect x="295.10" y="272.15" width="22.97" height="0.70" fill="#868686"/>
<rect x="295.10" y="273.65" width="22.78" height="0.70" fill="#868686"/>
<rect x="295.10" y="274.85" width="22.60" height="1.30" fill="#3c3c3c"/>
<rect x="295.10" y="276.15" width="22.28" height="0.70" fill="#868686"/>
<rect x="295.10" y="277.65" width="21.82" height="0.70" fill="#868686"/>
<rect x="295.10" y="279.15" width="21.36" height="0.70" fill="#868686"/>
<rect x="295.10" y="280.65" width="20.89" height="0.70" fill="#868686"/>
<rect x="295.10" y="281.65" width="20.46" height="0.70" fill="#868686"/>
<rect x="295.10" y="283.15" width="20.18" height="0.70" fill="#868686"/>
<rect x="295.10" y="284.65" width="19.90" height="0.70" fill="#868686"/>
<rect x="295.10" y="286.15" width="19.63" height="0.70" fill="#868686"/>
<rect x="295.10" y="286.85" width="19.35" height="1.30" fill="#3c3c3c"/>
<rect x="295.10" y="288.65" width="19.22" height="0.70" fill="#868686"/>
<rect x="295.10" y="290.15" width="19.13" height="0.70" fill="#868686"/>
<rect x="295.10" y="291.65" width="19.04" height="0.70" fill="#868686"/>
<rect x="295.10" y="293.15" width="18.95" height="0.70" fill="#868686"/>
<rect x="295.10" y="294.15" width="18.86" height="0.70" fill="#868686"/>
<rect x="295.10" y="295.65" width="18.78" height="0.70" fill="#868686"/>
<rect x="295.10" y="297.15" width="18.70" height="0.70" fill="#868686"/>
<rect x="295.10" y="298.65" width="18.62" height="0.70" fill="#868686"/>
<rect x="295.10" y="299.85" width="18.54" height="1.30" fill="#3c3c3c"/>
<rect x="295.10" y="301.15" width="18.44" height="0.70" fill="#868686"/>
<rect x="295.10" y="302.65" width="18.30" height="0.70" fill="#868686"/>
<rect x="295.10" y="304.15" width="18.16" height="0.70" fill="#868686"/>
<rect x="295.10" y="305.65" width="18.02" height="0.70" fill="#868686"/>
<rect x="295.10" y="306.65" width="17.88" height="0.70" fill="#868686"/>
<rect x="295.10" y="308.15" width="17.75" height="0.70" fill="#868686"/>
<rect x="295.10" y="309.65" width="17.61" height="0.70" fill="#868686"/>
<rect x="295.10" y="311.15" width="17.47" height="0.70" fill="#868686"/>
<rect x="295.10" y="311.85" width="17.33" height="1.30" fill="#3c3c3c"/>
<rect x="295.10" y="313.65" width="17.17" height="0.70" fill="#868686"/>
<rect x="295.10" y="315.15" width="17.01" height="0.70" fill="#868686"/>
<rect x="295.10" y="316.65" width="16.85" height="0.70" fill="#868686"/>
<rect x="295.10" y="318.15" width="16.69" height="0.70" fill="#868686"/>
<rect x="295.10" y="319.15" width="16.53" height="0.70" fill="#868686"/>
<rect x="295.10" y="320.65" width="16.36" height="0.70" fill="#868686"/>
<rect x="295.10" y="322.15" width="16.20" height="0.70" fill="#868686"/>
<rect x="295.10" y="323.65" width="16.04" height="0.70" fill="#868686"/>
<rect x="295.10" y="324.85" width="15.88" height="1.30" fill="#3c3c3c"/>
<rect x="295.10" y="326.15" width="15.73" height="0.70" fill="#868686"/>
<rect x="295.10" y="327.65" width="15.58" height="0.70" fill="#868686"/>
<rect x="295.10" y="329.15" width="15.43" height="0.70" fill="#868686"/>
<rect x="295.10" y="330.15" width="15.28" height="0.70" fill="#868686"/>
<rect x="295.10" y="331.65" width="15.13" height="0.70" fill="#868686"/>
<rect x="295.10" y="333.15" width="14.98" height="0.70" fill="#868686"/>
<rect x="295.10" y="334.65" width="14.83" height="0.70" fill="#868686"/>
<rect x="295.10" y="336.15" width="14.69" height="0.70" fill="#868686"/>
<rect x="295.10" y="336.85" width="14.54" height="1.30" fill="#3c3c3c"/>
<rect x="295.10" y="338.65" width="14.36" height="0.70" fill="#868686"/>
<rect x="295.10" y="340.15" width="14.18" height="0.70" fill="#868686"/>
<rect x="295.10" y="341.65" width="13.99" height="0.70" fill="#868686"/>
<rect x="295.10" y="342.65" width="13.81" height="0.70" fill="#868686"/>
<rect x="295.10" y="344.15" width="13.62" height="0.70" fill="#868686"/>
<rect x="295.10" y="345.65" width="13.44" height="0.70" fill="#868686"/>
<rect x="295.10" y="347.15" width="13.25" height="0.70" fill="#868686"/>
<rect x="295.10" y="348.65" width="13.07" height="0.70" fill="#868686"/>
<rect x="295.10" y="349.85" width="12.89" height="1.30" fill="#3c3c3c"/>
<rect x="295.10" y="351.15" width="12.78" height="0.70" fill="#868686"/>
<rect x="295.10" y="352.65" width="12.68" height="0.70" fill="#868686"/>
<rect x="295.10" y="354.15" width="12.57" height="0.70" fill="#868686"/>
<rect x="295.10" y="355.15" width="12.46" height="0.70" fill="#868686"/>
<rect x="295.10" y="356.65" width="12.36" height="0.70" fill="#868686"/>
<rect x="295.10" y="358.15" width="12.25" height="0.70" fill="#868686"/>
<rect x="295.10" y="359.65" width="12.14" height="0.70" fill="#868686"/>
<rect x="295.10" y="360.65" width="12.04" height="0.70" fill="#868686"/>
<rect x="295.10" y="361.85" width="11.93" height="1.30" fill="#3c3c3c"/>
<rect x="295.10" y="363.65" width="11.82" height="0.70" fill="#868686"/>
<rect x="295.10" y="365.15" width="11.70" height="0.70" fill="#868686"/>
<rect x="295.10" y="366.65" width="11.59" height="0.70" fill="#868686"/>
<rect x="295.10" y="367.65" width="11.47" height="0.70" fill="#868686"/>
<rect x="295.10" y="369.15" width="11.35" height="0.70" fill="#868686"/>
<rect x="295.10" y="370.65" width="11.24" height="0.70" fill="#868686"/>
<rect x="295.10" y="372.15" width="11.12" height="0.70" fill="#868686"/>
<rect x="295.10" y="373.15" width="11.01" height="0.70" fill="#868686"/>
<rect x="295.10" y="374.85" width="10.89" height="1.30" fill="#3c3c3c"/>
<rect x="295.10" y="376.15" width="10.81" height="0.70" fill="#868686"/>
<rect x="295.10" y="377.65" width="10.72" height="0.70" fill="#868686"/>
<rect x="295.10" y="379.15" width="10.64" height="0.70" fill="#868686"/>
<rect x="295.10" y="380.15" width="10.55" height="0.70" fill="#868686"/>
<rect x="295.10" y="381.65" width="10.47" height="0.70" fill="#868686"/>
<rect x="295.10" y="383.15" width="10.38" height="0.70" fill="#868686"/>
<rect x="295.10" y="384.65" width="10.30" height="0.70" fill="#868686"/>
<rect x="295.10" y="385.65" width="10.21" height="0.70" fill="#868686"/>
<rect x="295.10" y="386.85" width="10.13" height="1.30" fill="#3c3c3c"/>
<rect x="295.10" y="388.65" width="10.04" height="0.70" fill="#868686"/>
<rect x="295.10" y="390.15" width="9.94" height="0.70" fill="#868686"/>
<rect x="295.10" y="391.15" width="9.85" height="0.70" fill="#868686"/>
<rect x="295.10" y="392.65" width="9.76" height="0.70" fill="#868686"/>
<rect x="295.10" y="394.15" width="9.67" height="0.70" fill="#868686"/>
<rect x="295.10" y="395.65" width="9.57" height="0.70" fill="#868686"/>
<rect x="295.10" y="397.15" width="9.48" height="0.70" fill="#868686"/>
<rect x="295.10" y="398.15" width="9.39" height="0.70" fill="#868686"/>
<rect x="295.10" y="399.85" width="9.30" height="1.30" fill="#3c3c3c"/>
<rect x="295.10" y="401.15" width="9.21" height="0.70" fill="#868686"/>
<rect x="295.10" y="402.65" width="9.13" height="0.70" fill="#868686"/>
<rect x="295.10" y="403.65" width="9.04" height="0.70" fill="#868686"/>
<rect x="295.10" y="405.15" width="8.96" height="0.70" fill="#868686"/>
<rect x="295.10" y="406.65" width="8.87" height="0.70" fill="#868686"/>
<rect x="295.10" y="408.15" width="8.78" height="0.70" fill="#868686"/>
<rect x="295.10" y="409.65" width="8.70" height="0.70" fill="#868686"/>
<rect x="295.10" y="410.65" width="8.61" height="0.70" fill="#868686"/>
<rect x="295.10" y="411.85" width="8.53" height="1.30" fill="#3c3c3c"/>
<rect x="295.10" y="413.65" width="8.44" height="0.70" fill="#868686"/>
<rect x="295.10" y="415.15" width="8.35" height="0.70" fill="#868686"/>
<rect x="295.10" y="416.15" width="8.25" height="0.70" fill="#868686"/>
<rect x="295.10" y="417.65" width="8.16" height="0.70" fill="#868686"/>
<rect x="295.10" y="419.15" width="8.07" height="0.70" fill="#868686"/>
<rect x="295.10" y="420.65" width="7.98" height="0.70" fill="#868686"/>
<rect x="295.10" y="421.65" width="7.88" height="0.70" fill="#868686"/>
<rect x="295.10" y="423.15" width="7.79" height="0.70" fill="#868686"/>
<rect x="295.10" y="424.85" width="7.70" height="1.30" fill="#3c3c3c"/>
<rect x="295.10" y="426.15" width="7.61" height="0.70" fill="#868686"/>
<rect x="295.10" y="427.65" width="7.53" height="0.70" fill="#868686"/>
<rect x="295.10" y="428.65" width="7.44" height="0.70" fill="#868686"/>
<rect x="295.10" y="430.15" width="7.36" height="0.70" fill="#868686"/>
<rect x="295.10" y="431.65" width="7.27" height="0.70" fill="#868686"/>
<rect x="295.10" y="433.15" width="7.19" height="0.70" fill="#868686"/>
<rect x="295.10" y="434.15" width="7.10" height="0.70" fill="#868686"/>
<rect x="295.10" y="435.65" width="7.02" height="0.70" fill="#868686"/>
<rect x="295.10" y="436.85" width="6.93" height="1.30" fill="#3c3c3c"/>
<rect x="295.10" y="438.65" width="6.84" height="0.70" fill="#868686"/>
<rect x="295.10" y="440.15" width="6.75" height="0.70" fill="#868686"/>
<rect x="295.10" y="441.15" width="6.66" height="0.70" fill="#868686"/>
<rect x="295.10" y="442.65" width="6.56" height="0.70" fill="#868686"/>
<rect x="295.10" y="444.15" width="6.47" height="0.70" fill="#868686"/>
<rect x="295.10" y="445.65" width="6.38" height="0.70" fill="#868686"/>
<rect x="295.10" y="446.65" width="6.29" height="0.70" fill="#868686"/>
<rect x="295.10" y="448.15" width="6.19" height="0.70" fill="#868686"/>
<rect x="295.10" y="448.85" width="6.10" height="1.30" fill="#3c3c3c"/>
<rect x="295.10" y="451.15" width="6.02" height="0.70" fill="#868686"/>
<rect x="295.10" y="452.15" width="5.93" height="0.70" fill="#868686"/>
<rect x="295.10" y="453.65" width="5.85" height="0.70" fill="#868686"/>
<rect x="295.10" y="455.15" width="5.76" height="0.70" fill="#868686"/>
<rect x="295.10" y="456.65" width="5.68" height="0.70" fill="#868686"/>
<rect x="295.10" y="458.15" width="5.59" height="0.70" fill="#868686"/>
<rect x="295.10" y="459.15" width="5.50" height="0.70" fill="#868686"/>
<rect x="295.10" y="460.65" width="5.42" height="0.70" fill="#868686"/>
<rect x="295.10" y="461.85" width="5.33" height="1.30" fill="#3c3c3c"/>
<rect x="295.10" y="463.65" width="5.27" height="0.70" fill="#868686"/>
<rect x="295.10" y="464.65" width="5.23" height="0.70" fill="#868686"/>
<rect x="295.10" y="466.15" width="5.18" height="0.70" fill="#868686"/>
<rect x="295.10" y="467.65" width="5.13" height="0.70" fill="#868686"/>
<rect x="295.10" y="469.15" width="5.09" height="0.70" fill="#868686"/>
<rect x="295.10" y="470.65" width="5.04" height="0.70" fill="#868686"/>
<rect x="295.10" y="471.65" width="4.99" height="0.70" fill="#868686"/>
<rect x="295.10" y="473.15" width="4.95" height="0.70" fill="#868686"/>
<rect x="295.10" y="473.85" width="4.90" height="1.30" fill="#3c3c3c"/>
<rect x="295.10" y="476.15" width="4.71" height="0.70" fill="#868686"/>
<rect x="295.10" y="477.15" width="4.51" height="0.70" fill="#868686"/>
<rect x="295.10" y="478.65" width="4.32" height="0.70" fill="#868686"/>
<rect x="295.10" y="480.15" width="4.12" height="0.70" fill="#868686"/>
<rect x="295.10" y="481.65" width="3.92" height="0.70" fill="#868686"/>
<rect x="295.10" y="482.65" width="3.78" height="0.70" fill="#868686"/>
<rect x="295.10" y="484.15" width="3.64" height="0.70" fill="#868686"/>
<rect x="295.10" y="485.65" width="3.50" height="0.70" fill="#868686"/>
<rect x="295.10" y="486.85" width="3.36" height="1.30" fill="#3c3c3c"/>
<rect x="295.10" y="488.65" width="3.19" height="0.70" fill="#868686"/>
<rect x="295.10" y="489.65" width="3.01" height="0.70" fill="#868686"/>
<rect x="295.10" y="491.15" width="2.82" height="0.70" fill="#868686"/>
<rect x="295.10" y="492.65" width="2.64" height="0.70" fill="#868686"/>
<rect x="295.10" y="494.15" width="2.47" height="0.70" fill="#868686"/>
<rect x="295.10" y="495.15" width="2.33" height="0.70" fill="#868686"/>
<rect x="295.10" y="496.65" width="2.19" height="0.70" fill="#868686"/>
<rect x="295.10" y="498.15" width="2.05" height="0.70" fill="#868686"/>
<rect x="295.10" y="498.85" width="1.91" height="1.30" fill="#3c3c3c"/>
<rect x="295.10" y="501.15" width="1.71" height="0.70" fill="#868686"/>
<rect x="295.10" y="502.15" width="1.50" height="0.70" fill="#868686"/>
<rect x="295.10" y="503.65" width="1.29" height="0.70" fill="#868686"/>
<rect x="295.10" y="505.15" width="0.99" height="0.70" fill="#868686"/>
<rect x="295.10" y="506.65" width="0.68" height="0.70" fill="#868686"/>
<rect x="295.10" y="507.65" width="0.38" height="0.70" fill="#868686"/>
<rect x="295.10" y="509.15" width="0.15" height="0.70" fill="#868686"/>
<line x1="294.7" y1="187" x2="294.7" y2="529.3" stroke="#6a6a6a" stroke-width="1"/>
<line x1="294.2" y1="528.8" x2="391.0" y2="528.8" stroke="#6a6a6a" stroke-width="1"/>
<line x1="294.7" y1="528.8" x2="294.7" y2="530.8" stroke="#6a6a6a" stroke-width="0.8"/>
<text x="294.7" y="536.6" font-size="4.6" font-weight="normal" text-anchor="middle" fill="#222">0</text>
<line x1="326.7" y1="528.8" x2="326.7" y2="530.8" stroke="#6a6a6a" stroke-width="0.8"/>
<text x="326.7" y="536.6" font-size="4.6" font-weight="normal" text-anchor="middle" fill="#222">20</text>
<line x1="358.6" y1="528.8" x2="358.6" y2="530.8" stroke="#6a6a6a" stroke-width="0.8"/>
<text x="358.6" y="536.6" font-size="4.6" font-weight="normal" text-anchor="middle" fill="#222">40</text>
<line x1="390.5" y1="528.8" x2="390.5" y2="530.8" stroke="#6a6a6a" stroke-width="0.8"/>
<text x="390.5" y="536.6" font-size="4.6" font-weight="normal" text-anchor="middle" fill="#222">60</text>
<text x="342.8" y="543.0" font-size="5" font-weight="normal" text-anchor="middle" fill="#222">Arbitrary unit</text>
<line x1="292.7" y1="200.40" x2="294.7" y2="200.40" stroke="#111" stroke-width="1"/>
<text x="292.30" y="201.84" font-size="4" font-weight="bold" text-anchor="end" fill="#111" stroke="#111" stroke-width="0.2">RECQL</text>
<line x1="292.7" y1="205.95" x2="294.7" y2="205.95" stroke="#111" stroke-width="1"/>
<text x="292.30" y="207.39" font-size="4" font-weight="bold" text-anchor="end" fill="#111" stroke="#111" stroke-width="0.2">UPF2</text>
<line x1="292.7" y1="211.49" x2="294.7" y2="211.49" stroke="#111" stroke-width="1"/>
<text x="292.30" y="212.93" font-size="4" font-weight="bold" text-anchor="end" fill="#111" stroke="#111" stroke-width="0.2">PABPC4</text>
<line x1="292.7" y1="217.04" x2="294.7" y2="217.04" stroke="#111" stroke-width="1"/>
<text x="292.30" y="218.48" font-size="4" font-weight="bold" text-anchor="end" fill="#111" stroke="#111" stroke-width="0.2">RBM22</text>
<line x1="292.7" y1="222.58" x2="294.7" y2="222.58" stroke="#111" stroke-width="1"/>
<text x="292.30" y="224.02" font-size="4" font-weight="bold" text-anchor="end" fill="#111" stroke="#111" stroke-width="0.2">EIF2S1</text>
<line x1="292.7" y1="228.13" x2="294.7" y2="228.13" stroke="#111" stroke-width="1"/>
<text x="292.30" y="229.57" font-size="4" font-weight="bold" text-anchor="end" fill="#111" stroke="#111" stroke-width="0.2">TIA1</text>
<line x1="292.7" y1="233.68" x2="294.7" y2="233.68" stroke="#111" stroke-width="1"/>
<text x="292.30" y="235.12" font-size="4" font-weight="bold" text-anchor="end" fill="#111" stroke="#111" stroke-width="0.2">SRSF9</text>
<line x1="292.7" y1="239.22" x2="294.7" y2="239.22" stroke="#111" stroke-width="1"/>
<text x="292.30" y="240.66" font-size="4" font-weight="bold" text-anchor="end" fill="#111" stroke="#111" stroke-width="0.2">EXOSC9</text>
<line x1="292.7" y1="244.77" x2="294.7" y2="244.77" stroke="#111" stroke-width="1"/>
<text x="292.30" y="246.21" font-size="4" font-weight="bold" text-anchor="end" fill="#111" stroke="#111" stroke-width="0.2">PCBP1</text>
<line x1="292.7" y1="250.31" x2="294.7" y2="250.31" stroke="#111" stroke-width="1"/>
<text x="292.30" y="251.75" font-size="4" font-weight="bold" text-anchor="end" fill="#111" stroke="#111" stroke-width="0.2">TIAL1</text>
<line x1="292.7" y1="255.86" x2="294.7" y2="255.86" stroke="#111" stroke-width="1"/>
<text x="292.30" y="257.30" font-size="4" font-weight="bold" text-anchor="end" fill="#111" stroke="#111" stroke-width="0.2">FXR1</text>
<line x1="292.7" y1="261.41" x2="294.7" y2="261.41" stroke="#111" stroke-width="1"/>
<text x="292.30" y="262.85" font-size="4" font-weight="bold" text-anchor="end" fill="#111" stroke="#111" stroke-width="0.2">NAA15</text>
<line x1="292.7" y1="266.95" x2="294.7" y2="266.95" stroke="#111" stroke-width="1"/>
<text x="292.30" y="268.39" font-size="4" font-weight="bold" text-anchor="end" fill="#111" stroke="#111" stroke-width="0.2">MTPAP</text>
<line x1="292.7" y1="272.50" x2="294.7" y2="272.50" stroke="#111" stroke-width="1"/>
<text x="292.30" y="273.94" font-size="4" font-weight="bold" text-anchor="end" fill="#111" stroke="#111" stroke-width="0.2">HSPD1</text>
<line x1="292.7" y1="278.04" x2="294.7" y2="278.04" stroke="#111" stroke-width="1"/>
<text x="292.30" y="279.48" font-size="4" font-weight="bold" text-anchor="end" fill="#111" stroke="#111" stroke-width="0.2">PRPF4</text>
<line x1="292.7" y1="283.59" x2="294.7" y2="283.59" stroke="#111" stroke-width="1"/>
<text x="292.30" y="285.03" font-size="4" font-weight="bold" text-anchor="end" fill="#111" stroke="#111" stroke-width="0.2">PUS1</text>
<line x1="292.7" y1="289.14" x2="294.7" y2="289.14" stroke="#111" stroke-width="1"/>
<text x="292.30" y="290.58" font-size="4" font-weight="bold" text-anchor="end" fill="#111" stroke="#111" stroke-width="0.2">GNB2L1</text>
<line x1="292.7" y1="294.68" x2="294.7" y2="294.68" stroke="#111" stroke-width="1"/>
<text x="292.30" y="296.12" font-size="4" font-weight="bold" text-anchor="end" fill="#111" stroke="#111" stroke-width="0.2">CNOT7</text>
<line x1="292.7" y1="300.23" x2="294.7" y2="300.23" stroke="#111" stroke-width="1"/>
<text x="292.30" y="301.67" font-size="4" font-weight="bold" text-anchor="end" fill="#111" stroke="#111" stroke-width="0.2">RBM5</text>
<line x1="292.7" y1="305.77" x2="294.7" y2="305.77" stroke="#111" stroke-width="1"/>
<text x="292.30" y="307.21" font-size="4" font-weight="bold" text-anchor="end" fill="#111" stroke="#111" stroke-width="0.2">DKC1</text>
<line x1="292.7" y1="311.32" x2="294.7" y2="311.32" stroke="#111" stroke-width="1"/>
<text x="292.30" y="312.76" font-size="4" font-weight="bold" text-anchor="end" fill="#111" stroke="#111" stroke-width="0.2">EIF4G1</text>
<line x1="292.7" y1="316.87" x2="294.7" y2="316.87" stroke="#111" stroke-width="1"/>
<text x="292.30" y="318.31" font-size="4" font-weight="bold" text-anchor="end" fill="#111" stroke="#111" stroke-width="0.2">CCAR2</text>
<line x1="292.7" y1="322.41" x2="294.7" y2="322.41" stroke="#111" stroke-width="1"/>
<text x="292.30" y="323.85" font-size="4" font-weight="bold" text-anchor="end" fill="#111" stroke="#111" stroke-width="0.2">EEF2</text>
<line x1="292.7" y1="327.96" x2="294.7" y2="327.96" stroke="#111" stroke-width="1"/>
<text x="292.30" y="329.40" font-size="4" font-weight="bold" text-anchor="end" fill="#111" stroke="#111" stroke-width="0.2">ACO1</text>
<line x1="292.7" y1="333.50" x2="294.7" y2="333.50" stroke="#111" stroke-width="1"/>
<text x="292.30" y="334.94" font-size="4" font-weight="bold" text-anchor="end" fill="#111" stroke="#111" stroke-width="0.2">TROVE2</text>
<line x1="292.7" y1="339.05" x2="294.7" y2="339.05" stroke="#111" stroke-width="1"/>
<text x="292.30" y="340.49" font-size="4" font-weight="bold" text-anchor="end" fill="#111" stroke="#111" stroke-width="0.2">EIF3D</text>
<line x1="292.7" y1="344.60" x2="294.7" y2="344.60" stroke="#111" stroke-width="1"/>
<text x="292.30" y="346.04" font-size="4" font-weight="bold" text-anchor="end" fill="#111" stroke="#111" stroke-width="0.2">HDGF</text>
<line x1="292.7" y1="350.14" x2="294.7" y2="350.14" stroke="#111" stroke-width="1"/>
<text x="292.30" y="351.58" font-size="4" font-weight="bold" text-anchor="end" fill="#111" stroke="#111" stroke-width="0.2">CPSF6</text>
<line x1="292.7" y1="355.69" x2="294.7" y2="355.69" stroke="#111" stroke-width="1"/>
<text x="292.30" y="357.13" font-size="4" font-weight="bold" text-anchor="end" fill="#111" stroke="#111" stroke-width="0.2">XRN2</text>
<line x1="292.7" y1="361.23" x2="294.7" y2="361.23" stroke="#111" stroke-width="1"/>
<text x="292.30" y="362.67" font-size="4" font-weight="bold" text-anchor="end" fill="#111" stroke="#111" stroke-width="0.2">MATR3</text>
<line x1="292.7" y1="366.78" x2="294.7" y2="366.78" stroke="#111" stroke-width="1"/>
<text x="292.30" y="368.22" font-size="4" font-weight="bold" text-anchor="end" fill="#111" stroke="#111" stroke-width="0.2">CPSF7</text>
<line x1="292.7" y1="372.33" x2="294.7" y2="372.33" stroke="#111" stroke-width="1"/>
<text x="292.30" y="373.77" font-size="4" font-weight="bold" text-anchor="end" fill="#111" stroke="#111" stroke-width="0.2">RBM27</text>
<line x1="292.7" y1="377.87" x2="294.7" y2="377.87" stroke="#111" stroke-width="1"/>
<text x="292.30" y="379.31" font-size="4" font-weight="bold" text-anchor="end" fill="#111" stroke="#111" stroke-width="0.2">HLTF</text>
<line x1="292.7" y1="383.42" x2="294.7" y2="383.42" stroke="#111" stroke-width="1"/>
<text x="292.30" y="384.86" font-size="4" font-weight="bold" text-anchor="end" fill="#111" stroke="#111" stroke-width="0.2">RPL23A</text>
<line x1="292.7" y1="388.96" x2="294.7" y2="388.96" stroke="#111" stroke-width="1"/>
<text x="292.30" y="390.40" font-size="4" font-weight="bold" text-anchor="end" fill="#111" stroke="#111" stroke-width="0.2">SRSF5</text>
<line x1="292.7" y1="394.51" x2="294.7" y2="394.51" stroke="#111" stroke-width="1"/>
<text x="292.30" y="395.95" font-size="4" font-weight="bold" text-anchor="end" fill="#111" stroke="#111" stroke-width="0.2">ABCF1</text>
<line x1="292.7" y1="400.06" x2="294.7" y2="400.06" stroke="#111" stroke-width="1"/>
<text x="292.30" y="401.50" font-size="4" font-weight="bold" text-anchor="end" fill="#111" stroke="#111" stroke-width="0.2">NPM1</text>
<line x1="292.7" y1="405.60" x2="294.7" y2="405.60" stroke="#111" stroke-width="1"/>
<text x="292.30" y="407.04" font-size="4" font-weight="bold" text-anchor="end" fill="#111" stroke="#111" stroke-width="0.2">HNRNPUL1</text>
<line x1="292.7" y1="411.15" x2="294.7" y2="411.15" stroke="#111" stroke-width="1"/>
<text x="292.30" y="412.59" font-size="4" font-weight="bold" text-anchor="end" fill="#111" stroke="#111" stroke-width="0.2">PUM1</text>
<line x1="292.7" y1="416.69" x2="294.7" y2="416.69" stroke="#111" stroke-width="1"/>
<text x="292.30" y="418.13" font-size="4" font-weight="bold" text-anchor="end" fill="#111" stroke="#111" stroke-width="0.2">PKM</text>
<line x1="292.7" y1="422.24" x2="294.7" y2="422.24" stroke="#111" stroke-width="1"/>
<text x="292.30" y="423.68" font-size="4" font-weight="bold" text-anchor="end" fill="#111" stroke="#111" stroke-width="0.2">NUFIP2</text>
<line x1="292.7" y1="427.79" x2="294.7" y2="427.79" stroke="#111" stroke-width="1"/>
<text x="292.30" y="429.23" font-size="4" font-weight="bold" text-anchor="end" fill="#111" stroke="#111" stroke-width="0.2">CIRBP</text>
<line x1="292.7" y1="433.33" x2="294.7" y2="433.33" stroke="#111" stroke-width="1"/>
<text x="292.30" y="434.77" font-size="4" font-weight="bold" text-anchor="end" fill="#111" stroke="#111" stroke-width="0.2">AARS</text>
<line x1="292.7" y1="438.88" x2="294.7" y2="438.88" stroke="#111" stroke-width="1"/>
<text x="292.30" y="440.32" font-size="4" font-weight="bold" text-anchor="end" fill="#111" stroke="#111" stroke-width="0.2">HNRNPM</text>
<line x1="292.7" y1="444.42" x2="294.7" y2="444.42" stroke="#111" stroke-width="1"/>
<text x="292.30" y="445.86" font-size="4" font-weight="bold" text-anchor="end" fill="#111" stroke="#111" stroke-width="0.2">IGF2BP1</text>
<line x1="292.7" y1="449.97" x2="294.7" y2="449.97" stroke="#111" stroke-width="1"/>
<text x="292.30" y="451.41" font-size="4" font-weight="bold" text-anchor="end" fill="#111" stroke="#111" stroke-width="0.2">UBE2L3</text>
<line x1="292.7" y1="455.52" x2="294.7" y2="455.52" stroke="#111" stroke-width="1"/>
<text x="292.30" y="456.96" font-size="4" font-weight="bold" text-anchor="end" fill="#111" stroke="#111" stroke-width="0.2">SND1</text>
<line x1="292.7" y1="461.06" x2="294.7" y2="461.06" stroke="#111" stroke-width="1"/>
<text x="292.30" y="462.50" font-size="4" font-weight="bold" text-anchor="end" fill="#111" stroke="#111" stroke-width="0.2">SAFB2</text>
<line x1="292.7" y1="466.61" x2="294.7" y2="466.61" stroke="#111" stroke-width="1"/>
<text x="292.30" y="468.05" font-size="4" font-weight="bold" text-anchor="end" fill="#111" stroke="#111" stroke-width="0.2">NONO</text>
<line x1="292.7" y1="472.15" x2="294.7" y2="472.15" stroke="#111" stroke-width="1"/>
<text x="292.30" y="473.59" font-size="4" font-weight="bold" text-anchor="end" fill="#111" stroke="#111" stroke-width="0.2">YBX3</text>
<line x1="292.7" y1="477.70" x2="294.7" y2="477.70" stroke="#111" stroke-width="1"/>
<text x="292.30" y="479.14" font-size="4" font-weight="bold" text-anchor="end" fill="#111" stroke="#111" stroke-width="0.2">NUSAP1</text>
<line x1="292.7" y1="483.25" x2="294.7" y2="483.25" stroke="#111" stroke-width="1"/>
<text x="292.30" y="484.69" font-size="4" font-weight="bold" text-anchor="end" fill="#111" stroke="#111" stroke-width="0.2">KIF1C</text>
<line x1="292.7" y1="488.79" x2="294.7" y2="488.79" stroke="#111" stroke-width="1"/>
<text x="292.30" y="490.23" font-size="4" font-weight="bold" text-anchor="end" fill="#111" stroke="#111" stroke-width="0.2">SUB1</text>
<line x1="292.7" y1="494.34" x2="294.7" y2="494.34" stroke="#111" stroke-width="1"/>
<text x="292.30" y="495.78" font-size="4" font-weight="bold" text-anchor="end" fill="#111" stroke="#111" stroke-width="0.2">ESF1</text>
<line x1="292.7" y1="499.88" x2="294.7" y2="499.88" stroke="#111" stroke-width="1"/>
<text x="292.30" y="501.32" font-size="4" font-weight="bold" text-anchor="end" fill="#111" stroke="#111" stroke-width="0.2">SART3</text>
<line x1="292.7" y1="505.43" x2="294.7" y2="505.43" stroke="#111" stroke-width="1"/>
<text x="292.30" y="506.87" font-size="4" font-weight="bold" text-anchor="end" fill="#111" stroke="#111" stroke-width="0.2">SBDS</text>
<line x1="292.7" y1="510.98" x2="294.7" y2="510.98" stroke="#111" stroke-width="1"/>
<text x="292.30" y="512.42" font-size="4" font-weight="bold" text-anchor="end" fill="#111" stroke="#111" stroke-width="0.2">DDX52</text>
<line x1="292.7" y1="516.52" x2="294.7" y2="516.52" stroke="#111" stroke-width="1"/>
<text x="292.30" y="517.96" font-size="4" font-weight="bold" text-anchor="end" fill="#111" stroke="#111" stroke-width="0.2">CEBPZ</text>
<line x1="292.7" y1="522.07" x2="294.7" y2="522.07" stroke="#111" stroke-width="1"/>
<text x="292.30" y="523.51" font-size="4" font-weight="bold" text-anchor="end" fill="#111" stroke="#111" stroke-width="0.2">GRWD1</text>
<line x1="292.7" y1="527.61" x2="294.7" y2="527.61" stroke="#111" stroke-width="1"/>
<text x="292.30" y="529.05" font-size="4" font-weight="bold" text-anchor="end" fill="#111" stroke="#111" stroke-width="0.2">SRSF4</text>
<text x="95" y="220.2" font-size="7.2" font-weight="bold" fill="#ff0000">RBM22 KD : 29,2% of IR</text>
<text x="94.6" y="230" font-size="7.45" font-weight="bold" font-style="italic" fill="#ff0000">Ranked 11th out of 235 RBPs</text>
<text x="353.3" y="218.0" font-size="7.3" font-weight="bold" fill="#ff0000">RBM22 KD : 34,4% of IR</text>
<text x="352.9" y="228" font-size="7.45" font-weight="bold" font-style="italic" fill="#ff0000">Ranked 13th out of 237 RBPs</text>
</svg>
</body></html>
